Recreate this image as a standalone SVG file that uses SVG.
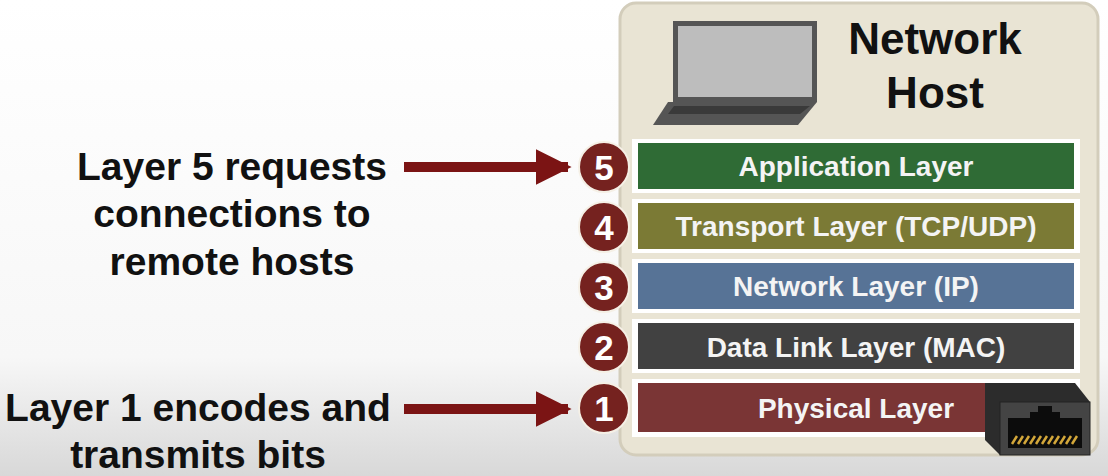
<svg xmlns="http://www.w3.org/2000/svg" width="1108" height="476" viewBox="0 0 1108 476">
<defs>
<linearGradient id="bg" x1="0" y1="0" x2="0" y2="1"><stop offset="0" stop-color="#ffffff"/><stop offset="0.75" stop-color="#f7f7f7"/><stop offset="1" stop-color="#d8d8d8"/></linearGradient>
<marker id="ah" viewBox="0 0 10 10" refX="9" refY="5" markerWidth="3.6" markerHeight="4" orient="auto" markerUnits="strokeWidth"><path d="M0,0 L10,5 L0,10 z" fill="#7b1414"/></marker>
</defs>
<style>
.lbl{font-family:"Liberation Sans",Arial,sans-serif;font-weight:bold;font-size:39px;fill:#111;text-anchor:middle}
.bar{font-family:"Liberation Sans",Arial,sans-serif;font-weight:bold;font-size:28px;fill:#f4f4f4;text-anchor:middle}
.num{font-family:"Liberation Sans",Arial,sans-serif;font-weight:bold;font-size:35px;fill:#fff;text-anchor:middle}
.circ{fill:#75221f;stroke:#f5f0e6;stroke-width:2}
.frame{fill:#ffffff}
</style>
<rect width="1108" height="476" fill="url(#bg)"/>
<g id="host">
<rect x="620" y="3" width="478" height="452" rx="16" fill="#e9e4d4" stroke="#d3cdbb" stroke-width="3"/>
<text class="lbl" x="935" y="54" style="font-size:44px">Network</text>
<text class="lbl" x="935" y="108" style="font-size:44px">Host</text>
</g>
<g id="laptop">
<rect x="673" y="21" width="144" height="81" fill="#555" />
<rect x="678" y="26" width="134" height="71" fill="#bdbdbd"/>
<polygon points="668,102 817,102 798,125 653,125" fill="#555"/>
<polygon points="674,106 810,106 800,114 668,114" fill="#3a3a3a"/>
</g>
<g id="layer5"><rect class="frame" x="632" y="139" width="448" height="54"/><rect x="638" y="143" width="436" height="46" fill="#2f6b35"/><text class="bar" x="856" y="176">Application Layer</text></g>
<g id="layer4"><rect class="frame" x="632" y="199" width="448" height="54"/><rect x="638" y="203" width="436" height="46" fill="#7b7a35"/><text class="bar" x="856" y="236">Transport Layer (TCP/UDP)</text></g>
<g id="layer3"><rect class="frame" x="632" y="259" width="448" height="54"/><rect x="638" y="263" width="436" height="46" fill="#577396"/><text class="bar" x="856" y="296">Network Layer (IP)</text></g>
<g id="layer2"><rect class="frame" x="632" y="319" width="448" height="54"/><rect x="638" y="323" width="436" height="46" fill="#414141"/><text class="bar" x="856" y="357">Data Link Layer (MAC)</text></g>
<g id="layer1"><rect class="frame" x="632" y="379" width="448" height="58"/><rect x="638" y="383" width="436" height="49" fill="#7a3535"/><text class="bar" x="856" y="418">Physical Layer</text></g>
<g id="port">
<polygon points="985,383 1075,383 1090,402 1090,455 1000,455 985,440" fill="#2c2c2c"/>
<rect x="1000" y="402" width="90" height="53" fill="#444" stroke="#222"/>
<path d="M1008,418 H1030 V412 H1038 V406 H1052 V412 H1060 V418 H1082 V448 H1008 z" fill="#0c0c0c"/>
<g stroke="#d3a73a" stroke-width="2.5"><path d="M1012,444 l5,-8 M1018,444 l5,-8 M1024,444 l5,-8 M1030,444 l5,-8 M1036,444 l5,-8 M1042,444 l5,-8 M1048,444 l5,-8 M1054,444 l5,-8 M1060,444 l5,-8 M1066,444 l5,-8 M1072,444 l5,-8"/></g>
</g>
<g id="badges">
<circle class="circ" cx="604" cy="167" r="25"/><text class="num" x="604" y="180">5</text>
<circle class="circ" cx="604" cy="227" r="25"/><text class="num" x="604" y="240">4</text>
<circle class="circ" cx="604" cy="287" r="25"/><text class="num" x="604" y="300">3</text>
<circle class="circ" cx="604" cy="347" r="25"/><text class="num" x="604" y="360">2</text>
<circle class="circ" cx="604" cy="408" r="25"/><text class="num" x="604" y="421">1</text>
</g>
<g id="connectors" stroke="#7b1414" stroke-width="10" fill="none">
<line x1="404" y1="167" x2="568" y2="167" marker-end="url(#ah)"/>
<line x1="404" y1="409" x2="568" y2="409" marker-end="url(#ah)"/>
</g>
<g id="label5">
<text class="lbl" x="232" y="180">Layer 5 requests</text>
<text class="lbl" x="232" y="227">connections to</text>
<text class="lbl" x="232" y="275">remote hosts</text>
</g>
<g id="label1">
<text class="lbl" x="198" y="421">Layer 1 encodes and</text>
<text class="lbl" x="198" y="468">transmits bits</text>
</g>
</svg>
